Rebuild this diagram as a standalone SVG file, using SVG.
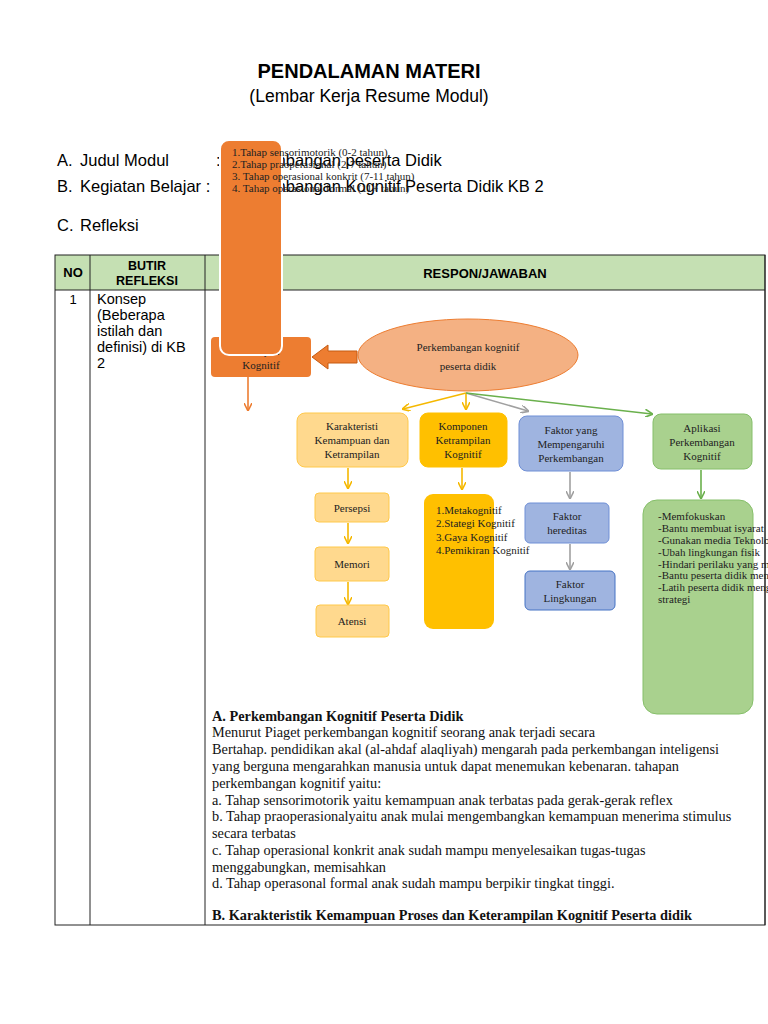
<svg xmlns="http://www.w3.org/2000/svg" width="768" height="1024" viewBox="0 0 768 1024">
<defs>
<style>
.s{font-family:"Liberation Sans",Arial,sans-serif}
.c{font-family:"Liberation Serif","DejaVu Serif",serif;font-size:11px;fill:#222}
.p{font-family:"Liberation Serif","DejaVu Serif",serif;font-size:14.3px;fill:#111}
.t{stroke:#222;stroke-width:1;fill:none}
</style>
<marker id="ay" markerWidth="8" markerHeight="8" refX="7" refY="4" orient="auto" markerUnits="userSpaceOnUse"><path d="M0,0 L8,4 L0,8" fill="none" stroke="#f5b800" stroke-width="1.6"/></marker>
<marker id="ag" markerWidth="8" markerHeight="8" refX="7" refY="4" orient="auto" markerUnits="userSpaceOnUse"><path d="M0,0 L8,4 L0,8" fill="none" stroke="#a0a0a0" stroke-width="1.6"/></marker>
<marker id="agr" markerWidth="8" markerHeight="8" refX="7" refY="4" orient="auto" markerUnits="userSpaceOnUse"><path d="M0,0 L8,4 L0,8" fill="none" stroke="#6ab04c" stroke-width="1.6"/></marker>
<marker id="ao" markerWidth="8" markerHeight="8" refX="7" refY="4" orient="auto" markerUnits="userSpaceOnUse"><path d="M0,0 L8,4 L0,8" fill="none" stroke="#ed7d31" stroke-width="1.6"/></marker>
</defs>
<rect width="768" height="1024" fill="#fff"/>
<text x="369" y="78" text-anchor="middle" class="s" font-size="20" font-weight="bold">PENDALAMAN MATERI</text>
<text x="369" y="102" text-anchor="middle" class="s" font-size="17.5">(Lembar Kerja Resume Modul)</text>
<g class="s" font-size="16.5">
<text x="57" y="166">A.</text><text x="80" y="166">Judul Modul</text><text x="216" y="166">:</text><text x="229" y="166">Perkembangan peserta Didik</text>
<text x="57" y="192">B.</text><text x="80" y="192">Kegiatan Belajar :</text><text x="229" y="192">Perkembangan Kognitif Peserta Didik KB 2</text>
<text x="57" y="231">C.</text><text x="80" y="231">Refleksi</text>
</g>
<!-- table -->
<rect x="55" y="255" width="710" height="35" fill="#c5e0b3"/>
<rect x="55" y="255" width="710" height="670" class="t"/>
<line x1="55" y1="290" x2="765" y2="290" class="t"/>
<line x1="90" y1="255" x2="90" y2="925" class="t"/>
<line x1="205" y1="255" x2="205" y2="925" class="t"/>
<text x="73" y="277" text-anchor="middle" class="s" font-size="13" font-weight="bold">NO</text>
<text x="147" y="270" text-anchor="middle" class="s" font-size="12.5" font-weight="bold">BUTIR</text>
<text x="147" y="285" text-anchor="middle" class="s" font-size="12.5" font-weight="bold">REFLEKSI</text>
<text x="485" y="278" text-anchor="middle" class="s" font-size="13" font-weight="bold">RESPON/JAWABAN</text>
<text x="73" y="304" text-anchor="middle" class="s" font-size="13">1</text>
<g class="s" font-size="14.5"><text x="97" y="304">Konsep</text><text x="97" y="320">(Beberapa</text><text x="97" y="336">istilah dan</text><text x="97" y="352">definisi) di KB</text><text x="97" y="368">2</text></g>
<!-- connectors -->
<g id="connectors" fill="none" stroke-width="1.6">
<path d="M248,377 V410" stroke="#ed7d31" marker-end="url(#ao)"/>
<path d="M466,393 L403,409" stroke="#f5b800" marker-end="url(#ay)"/>
<path d="M466,393 V409" stroke="#f5b800" marker-end="url(#ay)"/>
<path d="M466,393 L528,411" stroke="#a0a0a0" marker-end="url(#ag)"/>
<path d="M466,393 L652,414" stroke="#6ab04c" marker-end="url(#agr)"/>
<path d="M348,468 V488" stroke="#f5b800" marker-end="url(#ay)"/>
<path d="M348,523 V543" stroke="#f5b800" marker-end="url(#ay)"/>
<path d="M348,582 V604" stroke="#f5b800" marker-end="url(#ay)"/>
<path d="M462,468 V489" stroke="#f5b800" marker-end="url(#ay)"/>
<path d="M570,472 V498" stroke="#a0a0a0" marker-end="url(#ag)"/>
<path d="M570,544 V569" stroke="#a0a0a0" marker-end="url(#ag)"/>
<path d="M701,470 V498" stroke="#6ab04c" marker-end="url(#agr)"/>
</g>
<g id="n-root"><ellipse cx="468" cy="355" rx="110" ry="36" fill="#f4b183" stroke="#ed7d31"/>
<text x="468" y="351" text-anchor="middle" class="c" font-size="14.5">Perkembangan kognitif</text><text x="468" y="370" text-anchor="middle" class="c" font-size="14.5">peserta didik</text></g>
<g id="n-bigarrow"><path d="M357,351 H328 V345 L312,357 L328,369 V363 H357 Z" fill="#ed7d31" stroke="#c55a11"/></g>
<g id="n-tk"><rect x="211" y="337" width="100" height="40" rx="4" fill="#ed7d31"/>
<text x="261" y="355" text-anchor="middle" class="c">Tahapan</text><text x="261" y="369" text-anchor="middle" class="c">Kognitif</text></g>
<g id="n-tahap"><rect x="220" y="140" width="62" height="215" rx="9" fill="#ed7d31" stroke="#fff" stroke-width="2"/>
<g class="c" font-size="9.5"><text x="232" y="156">1.Tahap sensorimotorik (0-2 tahun)</text><text x="232" y="168">2.Tahap praoperasional (2-7 tahun)</text><text x="232" y="180">3. Tahap operasional konkrit (7-11 tahun)</text><text x="232" y="192">4. Tahap operasional formal (11+ tahun)</text></g></g>
<g id="n-kar"><rect x="297" y="413" width="111" height="54" rx="8" fill="#ffd98e" stroke="#ffc94a"/>
<text x="352" y="430" text-anchor="middle" class="c">Karakteristi</text><text x="352" y="444" text-anchor="middle" class="c">Kemampuan dan</text><text x="352" y="458" text-anchor="middle" class="c">Ketrampilan</text></g>
<g id="n-kom"><rect x="420" y="413" width="87" height="54" rx="8" fill="#ffc000" stroke="#ffc000"/>
<text x="463" y="430" text-anchor="middle" class="c">Komponen</text><text x="463" y="444" text-anchor="middle" class="c">Ketrampilan</text><text x="463" y="458" text-anchor="middle" class="c">Kognitif</text></g>
<g id="n-fak"><rect x="519" y="416" width="104" height="55" rx="8" fill="#9fb4e0" stroke="#6f8fd6"/>
<text x="571" y="434" text-anchor="middle" class="c">Faktor yang</text><text x="571" y="448" text-anchor="middle" class="c">Mempengaruhi</text><text x="571" y="462" text-anchor="middle" class="c">Perkembangan</text></g>
<g id="n-apl"><rect x="653" y="414" width="99" height="55" rx="8" fill="#a9d18e" stroke="#86bf6a"/>
<text x="702" y="432" text-anchor="middle" class="c">Aplikasi</text><text x="702" y="446" text-anchor="middle" class="c">Perkembangan</text><text x="702" y="460" text-anchor="middle" class="c">Kognitif</text></g>
<g id="n-per"><rect x="315" y="493" width="74" height="29" rx="4" fill="#ffd98e" stroke="#ffc94a"/><text x="352" y="512" text-anchor="middle" class="c">Persepsi</text></g>
<g id="n-mem"><rect x="315" y="547" width="74" height="34" rx="4" fill="#ffd98e" stroke="#ffc94a"/><text x="352" y="568" text-anchor="middle" class="c">Memori</text></g>
<g id="n-ate"><rect x="316" y="605" width="73" height="32" rx="4" fill="#ffd98e" stroke="#ffc94a"/><text x="352" y="625" text-anchor="middle" class="c">Atensi</text></g>
<g id="n-list"><rect x="424" y="494" width="70" height="135" rx="9" fill="#ffc000"/>
<g class="c"><text x="436" y="514">1.Metakognitif</text><text x="436" y="527">2.Stategi Kognitif</text><text x="436" y="541">3.Gaya Kognitif</text><text x="436" y="554">4.Pemikiran Kognitif</text></g></g>
<g id="n-her"><rect x="525" y="503" width="84" height="40" rx="5" fill="#9fb4e0" stroke="#6f8fd6"/><text x="567" y="520" text-anchor="middle" class="c">Faktor</text><text x="567" y="534" text-anchor="middle" class="c">hereditas</text></g>
<g id="n-ling"><rect x="525" y="571" width="90" height="39" rx="5" fill="#9fb4e0" stroke="#4472c4"/><text x="570" y="588" text-anchor="middle" class="c">Faktor</text><text x="570" y="602" text-anchor="middle" class="c">Lingkungan</text></g>
<g id="n-aplist"><rect x="643" y="500" width="110" height="214" rx="14" fill="#a9d18e" stroke="#86bf6a"/>
<g class="c" font-size="9.5"><text x="658" y="520">-Memfokuskan</text><text x="658" y="532">-Bantu membuat isyarat</text><text x="658" y="544">-Gunakan media Teknologi</text><text x="658" y="556">-Ubah lingkungan fisik</text><text x="658" y="568">-Hindari perilaku yang menghambat</text><text x="658" y="579">-Bantu peserta didik mengingat</text><text x="658" y="591">-Latih peserta didik menggunakan</text><text x="658" y="603">strategi</text></g></g>
<line x1="765" y1="255" x2="765" y2="925" class="t"/>
<g class="p">
<text x="212" y="721" font-weight="bold">A. Perkembangan Kognitif Peserta Didik</text>
<text x="212" y="737">Menurut Piaget perkembangan kognitif seorang anak terjadi secara</text>
<text x="212" y="754">Bertahap. pendidikan akal (al-ahdaf alaqliyah) mengarah pada perkembangan inteligensi</text>
<text x="212" y="771">yang berguna mengarahkan manusia untuk dapat menemukan kebenaran. tahapan</text>
<text x="212" y="788">perkembangan kognitif yaitu:</text>
<text x="212" y="805">a. Tahap sensorimotorik yaitu kemampuan anak terbatas pada gerak-gerak reflex</text>
<text x="212" y="821">b. Tahap praoperasionalyaitu anak mulai mengembangkan kemampuan menerima stimulus</text>
<text x="212" y="838">secara terbatas</text>
<text x="212" y="855">c. Tahap operasional konkrit anak sudah mampu menyelesaikan tugas-tugas</text>
<text x="212" y="872">menggabungkan, memisahkan</text>
<text x="212" y="888">d. Tahap operasonal formal anak sudah mampu berpikir tingkat tinggi.</text>
<text x="212" y="920" font-weight="bold">B. Karakteristik Kemampuan Proses dan Keterampilan Kognitif Peserta didik</text>
</g>
</svg>
